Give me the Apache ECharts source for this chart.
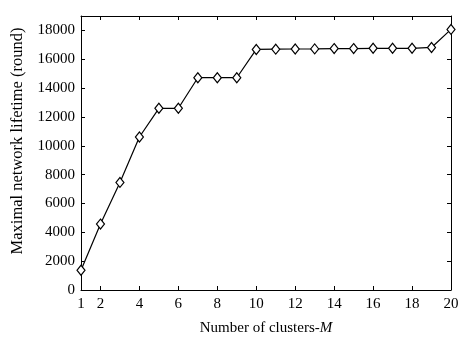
<!DOCTYPE html>
<html><head><meta charset="utf-8">
<script src="https://cdn.jsdelivr.net/npm/echarts@6/dist/echarts.min.js"></script>
<style>html,body{margin:0;padding:0;background:#fff}#c{width:474px;height:351px}</style>
</head><body><div id="c"></div>
<script>
const clusters = [1,2,3,4,5,6,7,8,9,10,11,12,13,14,15,16,17,18,19,20];
const lifetime = [1370,4570,7460,10610,12600,12600,14720,14720,14720,16680,16700,16710,16720,16740,16740,16760,16760,16760,16820,18070];
const xTicks = [1,2,4,6,8,10,12,14,16,18,20];
const yTicks = [0,2000,4000,6000,8000,10000,12000,14000,16000,18000];
const xTitle = 'Number of clusters-';
const xTitleItalic = 'M';
const yTitle = 'Maximal network lifetime (round)';

const font = 'Liberation Serif, DejaVu Serif, serif';
const chart = echarts.init(document.getElementById('c'));
const axisLine = {show:true, onZero:false, lineStyle:{color:'#000', width:1}};
chart.setOption({
  animation:false,
  grid:{left:81, right:23, top:16, bottom:61, show:false},
  xAxis:[{
    type:'value', min:1, max:20, position:'bottom',
    axisLine:axisLine,
    axisTick:{show:true, inside:true, length:4, customValues:xTicks, lineStyle:{color:'#000'}},
    axisLabel:{customValues:xTicks, color:'#000', fontFamily:font, fontSize:15, margin:7},
    splitLine:{show:false},
    name:'{a|'+xTitle+'}{b|'+xTitleItalic+'}', nameLocation:'middle', nameGap:31,
    nameTextStyle:{rich:{a:{fontFamily:font, fontSize:15, color:'#000'}, b:{fontFamily:font, fontSize:15, fontStyle:'italic', color:'#000'}}}
  },{
    type:'value', min:1, max:20, position:'top',
    axisLine:axisLine,
    axisTick:{show:true, inside:true, length:4, customValues:xTicks, lineStyle:{color:'#000'}},
    axisLabel:{show:false}, splitLine:{show:false}
  }],
  yAxis:[{
    type:'value', min:0, max:19000, position:'left',
    axisLine:axisLine,
    axisTick:{show:true, inside:true, length:4, customValues:yTicks, lineStyle:{color:'#000'}},
    axisLabel:{customValues:yTicks, color:'#000', fontFamily:font, fontSize:15, margin:6, formatter:v=>String(v)},
    splitLine:{show:false},
    name:yTitle, nameLocation:'middle', nameGap:48,
    nameTextStyle:{fontFamily:font, fontSize:16.5, color:'#000', padding:[0,0,0,24]}
  },{
    type:'value', min:0, max:19000, position:'right',
    axisLine:axisLine,
    axisTick:{show:true, inside:true, length:4, customValues:yTicks, lineStyle:{color:'#000'}},
    axisLabel:{show:false}, splitLine:{show:false}
  }],
  series:[{
    type:'line', xAxisIndex:0, yAxisIndex:0,
    data: clusters.map((c,i)=>[c, lifetime[i]]),
    symbol:'diamond', symbolSize:[8,10], showSymbol:true,
    lineStyle:{color:'#000', width:1.2},
    itemStyle:{color:'#fff', borderColor:'#000', borderWidth:1.2},
    clip:false
  }]
});
</script></body></html>
